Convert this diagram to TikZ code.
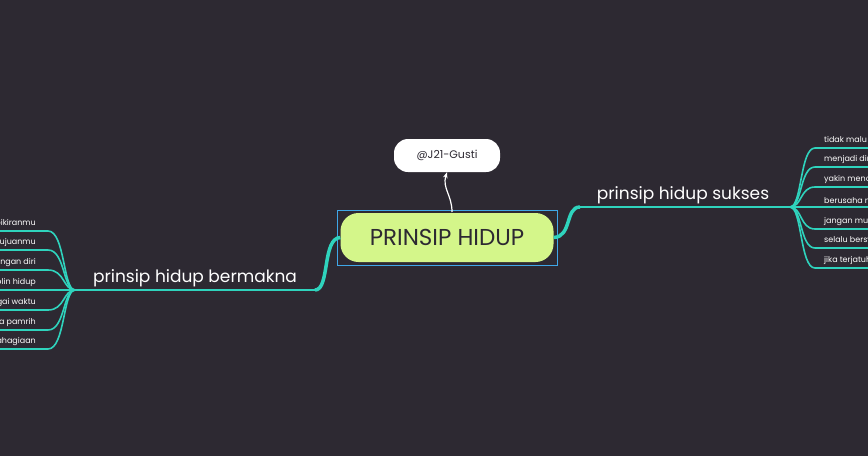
\documentclass[tikz,border=0pt]{standalone}
\usetikzlibrary{arrows.meta}
\usepackage{fontspec}
\setmainfont{Poppins}
\definecolor{bg}{HTML}{2D2932}
\definecolor{teal}{HTML}{2FD3BD}
\definecolor{cgreen}{HTML}{D4F68A}
\definecolor{cblue}{HTML}{3FA7E8}
\tikzset{
 leaf/.style={text=white,font=\fontsize{8}{9}\selectfont,inner sep=1pt},
 branch/.style={text=white,font=\fontsize{17}{19}\selectfont,inner sep=1pt},
 con/.style={teal,line width=1.6pt},
 thick con/.style={teal,line width=3.5pt},
}
\begin{document}
\begin{tikzpicture}[x=1pt,y=-1pt]
\fill[bg] (0,0) rectangle (868,456);
\useasboundingbox (0,0) rectangle (868,456);
\clip (0,0) rectangle (868,456);
% center
\node[draw=cblue,line width=0.7pt,minimum width=220,minimum height=55,inner sep=0] (cb) at (447,237.5) {};
\node[fill=cgreen,rounded corners=18pt,minimum width=213,minimum height=49,text=bg,font=\fontsize{23}{25}\selectfont] (c) at (447,237.5) {PRINSIP HIDUP};
\node[fill=white,rounded corners=14pt,minimum width=106,minimum height=33,text=bg,font=\fontsize{11}{12}\selectfont] (tag) at (447,155.5) {@J21-Gusti};
\draw[white,line width=1.2pt,-{Stealth[length=6pt]}] (452,212) .. controls (452,195) and (442,188) .. (tag.south);
% right branch
\coordinate (rs) at (580,207);
\coordinate (rh) at (790,207);
\node[branch,anchor=south] (rb) at (683,205) {prinsip hidup sukses};
\draw[thick con] (c.east) .. controls (572,237) and (565,207) .. (rs);
\draw[con] (rs) -- (rh);
\foreach \y/\t in {148/tidak malu bertanya,167/menjadi diri sendiri,187/yakin mencapai tujuan,207/berusaha maksimal,229/jangan mudah menyerah,248/selalu bersyukur,268/jika terjatuh bangkit}{
 \node[leaf,anchor=south west] at (823,\y-2) {\t};
 \draw[con] (rh) .. controls (802,207) and (800,\y) .. (815,\y) -- (870,\y);
}
% left branch
\coordinate (ls) at (315,290);
\coordinate (lh) at (75,290);
\node[branch,anchor=south] (lb) at (195,288) {prinsip hidup bermakna};
\draw[thick con] (c.west) .. controls (322,238) and (330,290) .. (ls);
\draw[con] (ls) -- (lh);
\foreach \y/\t in {231/jaga pikiranmu,250/kejar tujuanmu,270/jujur dengan diri,290/disiplin hidup,310/hargai waktu,330/tanpa pamrih,349/kebahagiaan}{
 \node[leaf,anchor=south east] at (37,\y-2) {\t};
 \draw[con] (lh) .. controls (63,290) and (65,\y) .. (48,\y) -- (-5,\y);
}
\end{tikzpicture}
\end{document}
